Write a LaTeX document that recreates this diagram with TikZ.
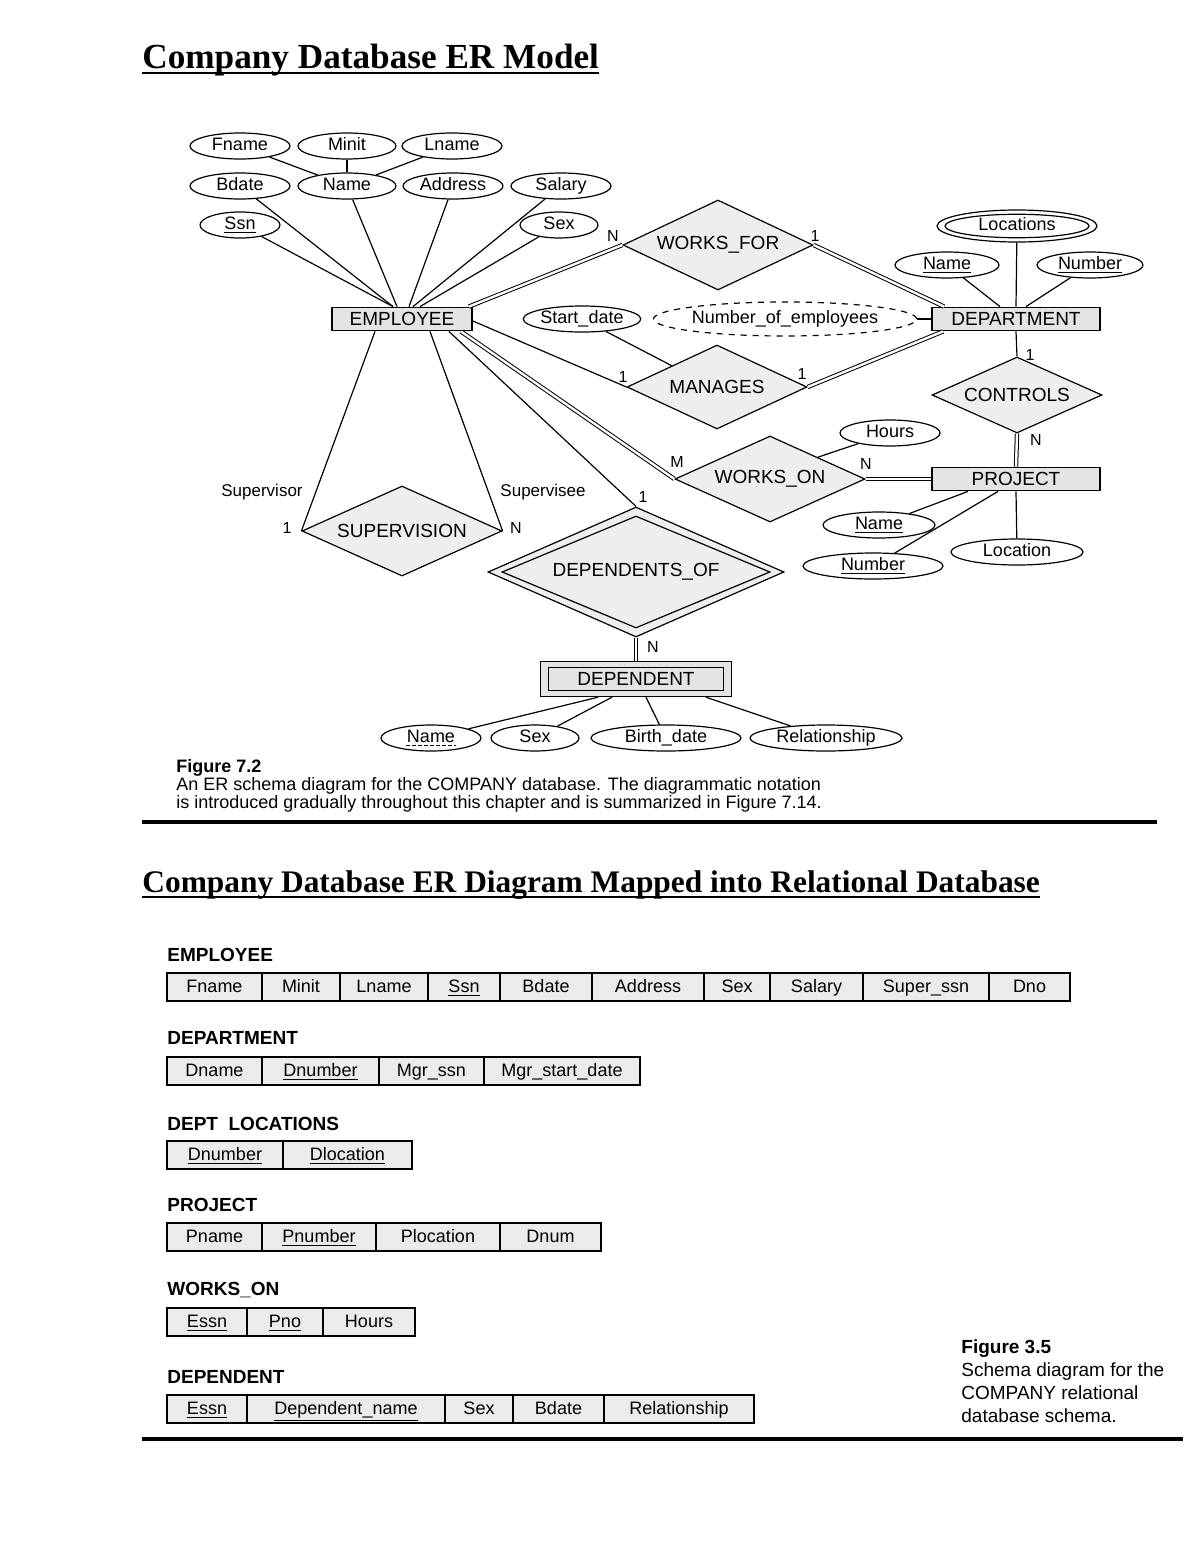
\documentclass[tikz,border=0pt]{standalone}
\usepackage{fontspec}
\setmainfont{Liberation Sans}
\newfontfamily\tnr{Liberation Serif}
\usetikzlibrary{shapes.geometric,calc}
\definecolor{ent}{HTML}{E4E4E4}
\definecolor{rel}{HTML}{EEEEEE}
\definecolor{cellc}{HTML}{EBEBEB}
\tikzset{
 erf/.style={font=\fontsize{9}{10}\selectfont},
 attr/.style={ellipse,draw,line width=0.6pt,inner sep=0pt,minimum height=13pt,text height=6.5pt,text depth=1.8pt,erf},
 ent/.style={rectangle,draw,line width=0.9pt,fill=ent,inner sep=0pt,minimum height=11.5pt,font=\fontsize{9.5}{10}\selectfont},
 rel/.style={diamond,shape aspect=2.1,draw,line width=0.6pt,fill=rel,inner sep=0pt,font=\fontsize{9.5}{10}\selectfont},
 ln/.style={line width=0.6pt},
 dbl/.style={double,double distance=1.2pt,line width=0.5pt},
 card/.style={font=\fontsize{8}{9}\selectfont,inner sep=0pt},
 cell/.style={rectangle,draw,line width=0.7pt,fill=cellc,inner sep=0pt,minimum height=14pt,text height=7pt,text depth=2pt,font=\fontsize{9}{10}\selectfont},
 thead/.style={anchor=west,inner sep=0pt,font=\bfseries\fontsize{9.5}{11}\selectfont},
 ttl/.style={anchor=base west,inner sep=0pt,font=\tnr\bfseries},
 uln/.style={line width=1.1pt},
}
\begin{document}
\begin{tikzpicture}[x=0.5pt,y=-0.5pt]
\useasboundingbox (0,0) rectangle (1200,1553);
% titles
\node[ttl,font=\tnr\bfseries\fontsize{17.6}{20}\selectfont] (t1) at (142,68) {Company Database ER Model};
\draw[uln] ($(t1.base west)+(0,5)$) -- ($(t1.base east)+(0,5)$);
% attributes of employee
\node[attr,minimum width=50pt] (fname) at (240,146) {Fname};
\node[attr,minimum width=49pt] (minit) at (347,146) {Minit};
\node[attr,minimum width=50pt] (lname) at (452,146) {Lname};
\node[attr,minimum width=50pt] (bdate) at (240,186) {Bdate};
\node[attr,minimum width=49pt] (name) at (347,186) {Name};
\node[attr,minimum width=50pt] (addr) at (453,186) {Address};
\node[attr,minimum width=50pt] (sal) at (561,186) {Salary};
\node[attr,minimum width=40pt] (ssn) at (240,225) {\underline{Ssn}};
\node[attr,minimum width=39pt] (sex) at (559,225) {Sex};
\node[ent,minimum width=70pt] (emp) at (402,319) {EMPLOYEE};
\draw[ln] (fname) -- (name); \draw[ln] (minit) -- (name); \draw[ln] (lname) -- (name);
\draw[ln] (ssn) -- ($(emp.north)+(-9,0)$);
\draw[ln] (bdate) -- ($(emp.north)+(-9,0)$);
\draw[ln] (name) -- ($(emp.north)+(-5,0)$);
\draw[ln] (addr) -- ($(emp.north)+(7,0)$);
\draw[ln] (sal) -- ($(emp.north)+(11,0)$);
\draw[ln] (sex) -- ($(emp.north)+(18,0)$);
% department
\node[attr,minimum width=80pt,minimum height=16pt] (loc) at (1017,226) {};
\node[attr,minimum width=72pt,minimum height=11.5pt] (loci) at (1017,226) {Locations};
\node[attr,minimum width=52pt] (dname) at (947,265) {\underline{Name}};
\node[attr,minimum width=53pt] (dnum) at (1090,265) {\underline{Number}};
\node[ent,minimum width=84pt] (dept) at (1016,319) {DEPARTMENT};
\draw[ln] (loc) -- (dept.north);
\draw[ln] (dname) -- ($(dept.north)+(-16,0)$);
\draw[ln] (dnum) -- ($(dept.north)+(10,0)$);
% works for
\node[rel,minimum width=95pt,minimum height=45pt] (wf) at (718,245) {WORKS\_FOR};
\draw[dbl] ($(emp.north east)+(-4,0)$) -- (wf.west);
\draw[dbl] (wf.east) -- ($(dept.north west)+(13,0)$);
\node[card] at (613,236) {N};
\node[card] at (815,236) {1};
% manages
\node[attr,minimum width=56pt] (sd) at (582,319) {Start\_date};
\node[attr,dashed,minimum width=116pt,minimum height=17pt] (noe) at (785,319) {Number\_of\_employees};
\draw[ln] (noe) -- (dept.west);
\node[rel,minimum width=90pt,minimum height=42pt] (man) at (717,387) {MANAGES};
\draw[ln] (sd) -- (man.north west);
\draw[ln] ($(emp.east)+(0,2)$) -- (man.west);
\draw[dbl] (man.east) -- ($(dept.south west)+(12,0)$);
\node[card] at (623,377) {1};
\node[card] at (802,374) {1};
% controls
\node[rel,minimum width=85pt,minimum height=38pt] (ctrl) at (1017,395) {CONTROLS};
\node[ent,minimum width=84pt] (proj) at (1016,479) {PROJECT};
\draw[ln] (dept.south) -- (ctrl.north);
\draw[dbl] (ctrl.south) -- (proj.north);
\node[card] at (1030,355) {1};
\node[card] at (1036,440) {N};
% works on
\node[attr,minimum width=50pt] (hours) at (890,433) {Hours};
\node[rel,minimum width=95pt,minimum height=43pt] (wo) at (770,479) {WORKS\_ON};
\draw[ln] (hours) -- (wo.north east);
\draw[dbl] ($(emp.south east)+(-12,0)$) -- (wo.west);
\draw[dbl] (wo.east) -- (proj.west);
\node[card] at (677,462) {M};
\node[card] at (866,464) {N};
\node[attr,minimum width=56pt] (pname) at (879,525) {\underline{Name}};
\node[attr,minimum width=70pt] (pnum) at (873,566) {\underline{Number}};
\node[attr,minimum width=66pt] (ploc) at (1017,552) {Location};
\draw[ln] (pname) -- ($(proj.south)+(-48,0)$);
\draw[ln] (pnum) -- ($(proj.south)+(-18,0)$);
\draw[ln] (ploc) -- (proj.south);
% supervision
\node[rel,minimum width=100pt,minimum height=45pt] (sup) at (402,531) {SUPERVISION};
\draw[ln] ($(emp.south)+(-27,0)$) -- (sup.west);
\draw[ln] ($(emp.south)+(28,0)$) -- (sup.east);
\node[card,font=\fontsize{8.5}{9}\selectfont] at (262,492) {Supervisor};
\node[card,font=\fontsize{8.5}{9}\selectfont] at (543,492) {Supervisee};
\node[card] at (287,528) {1};
\node[card] at (516,528) {N};
% dependents of
\node[rel,minimum width=148pt,minimum height=65pt] (dof) at (636,572) {};
\node[rel,minimum width=134pt,minimum height=56pt] (dofi) at (636,572) {DEPENDENTS\_OF};
\draw[ln] ($(emp.south east)+(-24,0)$) -- (dof.north);
\node[card] at (643,497) {1};
\node[ent,minimum width=95.5pt,minimum height=17.5pt,line width=0.7pt] (dep) at (636,679) {};
\node[ent,minimum width=87.5pt,minimum height=11.5pt,line width=0.7pt] (depi) at (636,679) {DEPENDENT};
\draw[dbl] (dof.south) -- (dep.north);
\node[card] at (653,647) {N};
\node[attr,minimum width=50pt] (dn) at (431,738) {Name};
\draw[dashed,line width=0.5pt,dash pattern=on 2pt off 1pt] ($(dn.center)+(-25,7)$) -- ++(50,0);
\node[attr,minimum width=44pt] (dsex) at (535,738) {Sex};
\node[attr,minimum width=75pt] (dbd) at (666,738) {Birth\_date};
\node[attr,minimum width=76pt] (drel) at (826,738) {Relationship};
\draw[ln] (dn) -- ($(dep.south)+(-38,0)$);
\draw[ln] (dsex) -- ($(dep.south)+(-24,0)$);
\draw[ln] (dbd) -- ($(dep.south)+(10,0)$);
\draw[ln] (drel) -- ($(dep.south)+(70,0)$);
% caption
\node[anchor=base west,inner sep=0pt,font=\bfseries\fontsize{9}{10}\selectfont] (cap1) at (176,772) {Figure 7.2};
\node[anchor=base west,inner sep=0pt,font=\fontsize{9}{9}\selectfont] (cap2) at (176,790) {An ER schema diagram for the COMPANY database. The diagrammatic notation};
\node[anchor=base west,inner sep=0pt,font=\fontsize{9}{9}\selectfont] (cap3) at (176,808) {is introduced gradually throughout this chapter and is summarized in Figure 7.14.};
\draw[line width=1.6pt] (142,822) -- (1157,822);
% second part
\node[ttl,font=\tnr\bfseries\fontsize{15.7}{20}\selectfont] (t2) at (142,892) {Company Database ER Diagram Mapped into Relational Database};
\draw[uln] ($(t2.base west)+(0,5)$) -- ($(t2.base east)+(0,5)$);
\node[thead] (h1) at (167,955) {EMPLOYEE};
\foreach \a/\b/\t in {167/262/Fname,262/340/Minit,340/428/Lname,428/500/{\underline{Ssn}},500/592/Bdate,592/704/Address,704/770/Sex,770/863/Salary,863/989/Super\_ssn,989/1070/Dno}{
 \pgfmathsetmacro\w{(\b-\a)/2}
 \node[cell,minimum width=\w pt] (c) at ({(\a+\b)/2},987) {\t};}
\node[thead] (h2) at (167,1038) {DEPARTMENT};
\foreach \a/\b/\t in {167/262/Dname,262/379/{\underline{Dnumber}},379/484/Mgr\_ssn,484/640/Mgr\_start\_date}{
 \pgfmathsetmacro\w{(\b-\a)/2}
 \node[cell,minimum width=\w pt] (c) at ({(\a+\b)/2},1071) {\t};}
\node[thead] (h3) at (167,1124) {DEPT\ \ LOCATIONS};
\foreach \a/\b/\t in {167/283/{\underline{Dnumber}},283/412/{\underline{Dlocation}}}{
 \pgfmathsetmacro\w{(\b-\a)/2}
 \node[cell,minimum width=\w pt] (c) at ({(\a+\b)/2},1155) {\t};}
\node[thead] (h4) at (167,1205) {PROJECT};
\foreach \a/\b/\t in {167/262/Pname,262/376/{\underline{Pnumber}},376/500/Plocation,500/601/Dnum}{
 \pgfmathsetmacro\w{(\b-\a)/2}
 \node[cell,minimum width=\w pt] (c) at ({(\a+\b)/2},1237) {\t};}
\node[thead] (h5) at (167,1290) {WORKS\_ON};
\foreach \a/\b/\t in {167/247/{\underline{Essn}},247/323/{\underline{Pno}},323/415/Hours}{
 \pgfmathsetmacro\w{(\b-\a)/2}
 \node[cell,minimum width=\w pt] (c) at ({(\a+\b)/2},1322) {\t};}
\node[thead] (h6) at (167,1377) {DEPENDENT};
\foreach \a/\b/\t in {167/247/{\underline{Essn}},247/445/{\underline{Dependent\_name}},445/513/Sex,513/604/Bdate,604/754/Relationship}{
 \pgfmathsetmacro\w{(\b-\a)/2}
 \node[cell,minimum width=\w pt] (c) at ({(\a+\b)/2},1409) {\t};}
\node[anchor=base west,inner sep=0pt,font=\bfseries\fontsize{9.5}{11}\selectfont] (f35) at (961,1353) {Figure 3.5};
\node[anchor=north west,inner sep=0pt,align=left,font=\fontsize{9.5}{11.5}\selectfont] (f35t) at (961,1362) {Schema diagram for the\\COMPANY relational\\database schema.};
\draw[line width=1.6pt] (142,1439) -- (1183,1439);
\end{tikzpicture}
\end{document}
